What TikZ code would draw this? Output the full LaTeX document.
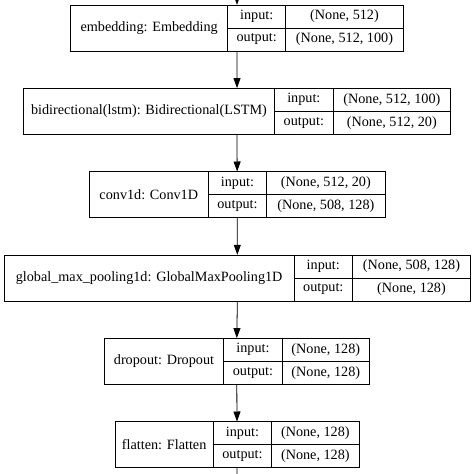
\documentclass[tikz,border=0pt]{standalone}
\usepackage{fontspec}
\setmainfont{Liberation Serif}
\usepackage{tikz}
\usetikzlibrary{arrows.meta,fit,positioning}

% one layer: id, left, divider 1, divider 2, right, top, name, input shape, output shape
\newcommand\kerasnode[9]{%
	\node[cell, minimum width={(#3-#2)*1pt}, minimum height=46pt] (#1-name) at (#2,-#6) {#7};
	\node[cell, minimum width={(#4-#3)*1pt}] (#1-inl) at (#3,-#6) {input:};
	\node[cell, minimum width={(#4-#3)*1pt}] (#1-outl) at (#1-inl.south west) {output:};
	\node[cell, minimum width={(#5-#4)*1pt}] (#1-inv) at (#1-inl.north east) {#8};
	\node[cell, minimum width={(#5-#4)*1pt}] (#1-outv) at (#1-outl.north east) {#9};
	\node[fit=(#1-name)(#1-outv), inner sep=0pt] (#1) {};
}

\begin{document}
\begin{tikzpicture}[x=1pt, y=1pt, >={Triangle[length=10pt,width=7pt]},
	cell/.style={draw, line width=0.8pt, inner sep=0pt, outer sep=0pt, anchor=north west, minimum height=23pt,
		font=\fontsize{14.2}{17}\selectfont}]
	\useasboundingbox (0,0) rectangle (474,-474);

	\kerasnode{emb}{70.7}{227.7}{285.7}{403.3}{5}{embedding: Embedding}{(None, 512)}{(None, 512, 100)}
	\kerasnode{lstm}{23.3}{274.7}{333}{450.7}{88.3}{bidirectional(lstm): Bidirectional(LSTM)}{(None, 512, 100)}{(None, 512, 20)}
	\kerasnode{conv}{89.3}{208.3}{266.7}{385}{171.7}{conv1d: Conv1D}{(None, 512, 20)}{(None, 508, 128)}
	\kerasnode{gmp}{4}{294.3}{352.3}{470.7}{255}{global\_max\_pooling1d: GlobalMaxPooling1D}{(None, 508, 128)}{(None, 128)}
	\kerasnode{drop}{104.3}{223.7}{282.3}{369.3}{338.3}{dropout: Dropout}{(None, 128)}{(None, 128)}
	\kerasnode{flat}{115}{213.3}{271.7}{359}{421.7}{flatten: Flatten}{(None, 128)}{(None, 128)}

	\coordinate (in) at (237,0);
	\coordinate (out) at (237,-474);

	\path[->, line width=0.8pt]
	(in) edge (emb.north)
	(emb.south) edge (lstm.north)
	(lstm.south) edge (conv.north)
	(conv.south) edge (gmp.north)
	(gmp.south) edge (drop.north)
	(drop.south) edge (flat.north)
	;
	\draw[line width=0.8pt] (flat.south) -- (out);
\end{tikzpicture}
\end{document}
